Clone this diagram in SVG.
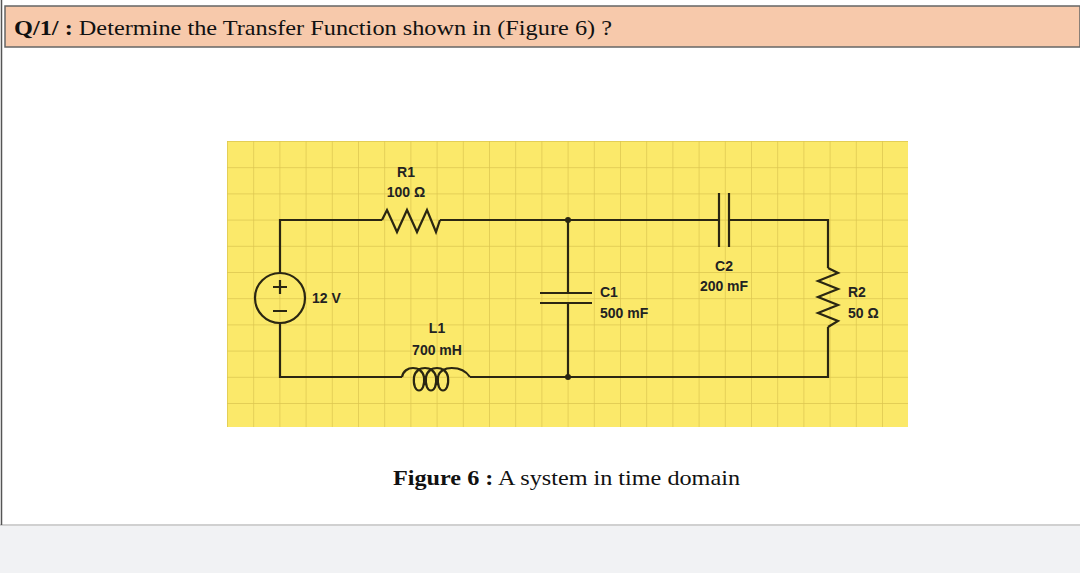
<svg xmlns="http://www.w3.org/2000/svg" width="1080" height="573" viewBox="0 0 1080 573">
<defs>
<pattern id="grid" x="227" y="141" width="26.2" height="26.2" patternUnits="userSpaceOnUse">
<rect width="26.2" height="26.2" fill="#fbe96a"/>
<path d="M0 0H26.2M0 0V26.2" stroke="#dcc54f" stroke-width="1.4" fill="none"/>
</pattern>
<style>
.w{stroke:#2a2612;stroke-width:2.2;fill:none;stroke-linejoin:miter}
.lb{font-family:"Liberation Sans",Arial,sans-serif;font-size:14px;font-weight:bold;fill:#222}
.tm{font-family:"Liberation Serif","Times New Roman",serif;fill:#111}
</style>
</defs>
<rect width="1080" height="573" fill="#fff"/>
<rect x="0" y="525" width="1080" height="48" fill="#f1f2f4"/>
<line x1="0" y1="525" x2="1080" y2="525" stroke="#d0d0d0" stroke-width="2"/>
<line x1="1.5" y1="0" x2="1.5" y2="525" stroke="#555" stroke-width="1.5"/>
<rect x="5" y="6" width="1075" height="41" fill="#f7c9ab" stroke="#666" stroke-width="1.5"/>
<text class="tm" x="14" y="35" font-size="22" textLength="598" lengthAdjust="spacingAndGlyphs"><tspan font-weight="bold">Q/1/ :</tspan> Determine the Transfer Function shown in (Figure 6) ?</text>
<rect x="227" y="141" width="681" height="286" fill="url(#grid)"/>
<g id="connectors">
<path class="w" d="M280 273V220H382M440 220H719M729 220H828V268M828 327V377H470M402 377H280V323"/>
<path class="w" d="M568 220V293M568 303V377"/>
</g>
<g id="V1"><circle class="w" cx="280" cy="298" r="25"/>
<path class="w" d="M273 287H287M280 280V294M273 311H287"/>
<text class="lb" x="312" y="303">12 V</text></g>
<g id="R1"><path class="w" d="M382 220L387 210L397 232L407 210L417 232L427 210L436 232L440 220"/>
<text class="lb" x="406" y="177" text-anchor="middle">R1</text><text class="lb" x="406" y="197" text-anchor="middle">100 Ω</text></g>
<g id="L1"><path class="w" d="M402 377C404 365 422 365 424 377C426 395 412 395 414 377C416 365 434 365 436 377C438 395 424 395 426 377C428 365 446 365 448 377C450 395 436 395 438 377C440 365 462 365 470 377"/>
<text class="lb" x="437" y="333" text-anchor="middle">L1</text><text class="lb" x="437" y="355" text-anchor="middle">700 mH</text></g>
<g id="C1"><path class="w" d="M540 293H592M540 303H592"/>
<text class="lb" x="600" y="297">C1</text><text class="lb" x="600" y="318">500 mF</text></g>
<g id="C2"><path class="w" d="M719 193V247M729 193V247"/>
<text class="lb" x="724" y="271" text-anchor="middle">C2</text><text class="lb" x="724" y="291" text-anchor="middle">200 mF</text></g>
<g id="R2"><path class="w" d="M828 268L838 273L818 281L838 289L818 297L838 305L818 313L838 321L828 327"/>
<text class="lb" x="848" y="297">R2</text><text class="lb" x="848" y="318">50 Ω</text></g>
<g id="nodes"><circle cx="568" cy="220" r="3" fill="#2a2612"/><circle cx="568" cy="377" r="3" fill="#2a2612"/></g>
<text class="tm" x="393" y="485" font-size="21" textLength="347" lengthAdjust="spacingAndGlyphs"><tspan font-weight="bold">Figure 6 :</tspan> A system in time domain</text>
</svg>
